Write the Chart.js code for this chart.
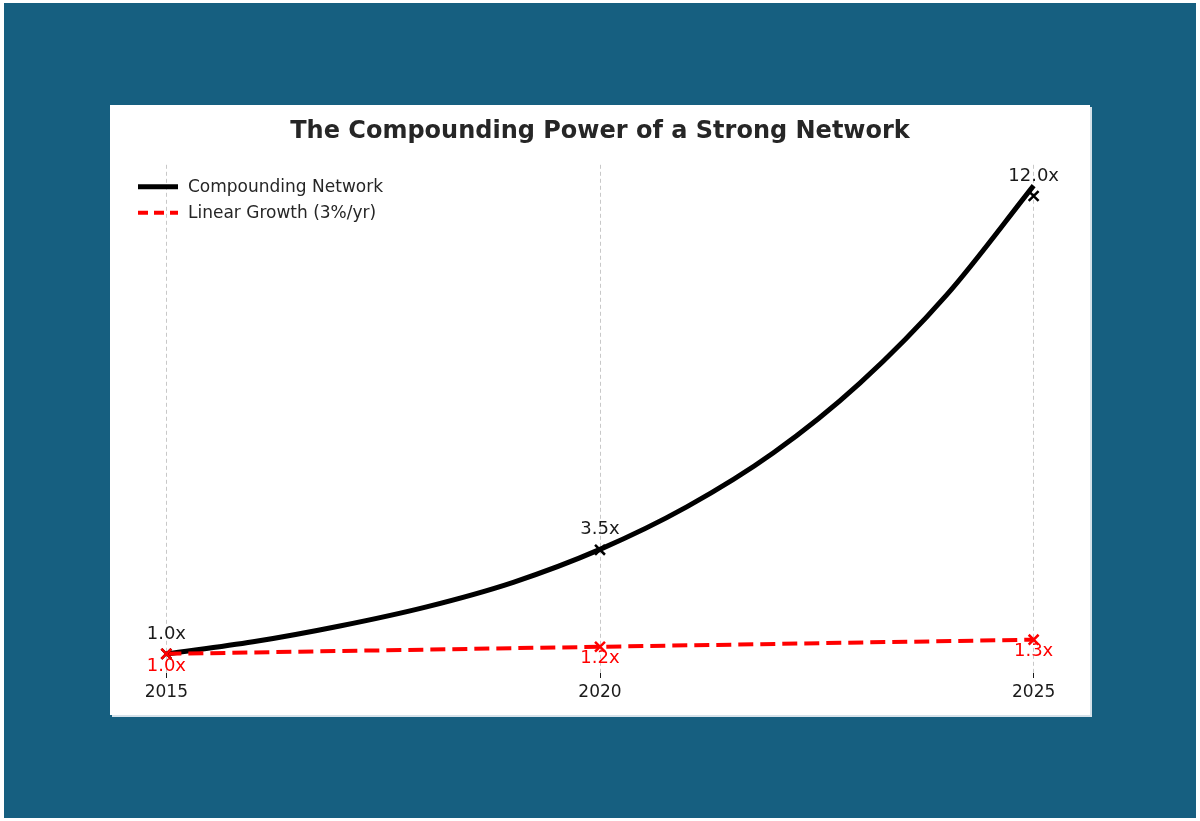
<!DOCTYPE html>
<html>
<head>
<meta charset="utf-8">
<script src="https://cdn.jsdelivr.net/npm/chart.js@4.4.1/dist/chart.umd.min.js"></script>
<style>
    html, body { margin: 0; padding: 0; background: #ffffff; }
    #frame {
        position: absolute; left: 4px; top: 3px; width: 1192px; height: 815px;
        background: #165f80;
    }
    #panel {
        position: absolute; left: 110px; top: 105px; width: 980px; height: 610px;
        background: #ffffff;
        box-shadow: 2px 2px 0 #d6e2ea;
    }
    #chart { display: block; }
</style>
</head>
<body>
<div id="frame"></div>
<div id="panel"><canvas id="chart" width="980" height="610"></canvas></div>
<script>
// ── Data ────────────────────────────────────
const YEARS = [2015, 2016, 2017, 2018, 2019, 2020, 2021, 2022, 2023, 2024, 2025];
const NETWORK = [1.0, 1.29, 1.67, 2.13, 2.72, 3.51, 4.53, 5.83, 7.51, 9.63, 12.25];

const LINEAR_YEARS = [2015, 2020, 2025];
const LINEAR = [1.0, 1.17, 1.34];

const MARK_YEARS = [2015, 2020, 2025];
const NETWORK_MARKS = [1.0, 3.5, 12.0];
const LINEAR_MARKS = [1.0, 1.17, 1.34];

const TICK_YEARS = [2015, 2020, 2025];

const TITLE = 'The Compounding Power of a Strong Network';
const LEGEND = [
    { label: 'Compounding Network', color: '#000000', dash: [], width: 5 },
    { label: 'Linear Growth (3%/yr)', color: '#ff0000', dash: [10, 6], width: 4 },
];

const FONT = '"DejaVu Sans", "Noto Sans", sans-serif';

const pts = (xs, ys) => xs.map((x, i) => ({ x, y: ys[i] }));

// ── Plugins ─────────────────────────────────

// legend drawn inside the plot, top-left like the original
const insideLegend = {
    id: 'insideLegend',
    afterDraw(chart) {
        const { ctx, chartArea } = chart;
        ctx.save();
        ctx.font = '17px ' + FONT;
        ctx.textBaseline = 'middle';
        LEGEND.forEach((item, i) => {
            const y = chartArea.top + 22 + i * 26;
            const x = chartArea.left + 15;
            ctx.beginPath();
            ctx.strokeStyle = item.color;
            ctx.lineWidth = item.width;
            ctx.setLineDash(item.dash);
            ctx.moveTo(x, y);
            ctx.lineTo(x + 40, y);
            ctx.stroke();
            ctx.setLineDash([]);
            ctx.fillStyle = '#262626';
            ctx.fillText(item.label, x + 50, y + 1);
        });
        ctx.restore();
    },
};

// value labels next to the x markers
const valueLabels = {
    id: 'valueLabels',
    afterDatasetsDraw(chart) {
        const { ctx } = chart;
        ctx.save();
        ctx.font = '18px ' + FONT;
        ctx.textAlign = 'center';
        chart.data.datasets.forEach((ds, di) => {
            if (!ds.valueLabel) return;
            const meta = chart.getDatasetMeta(di);
            meta.data.forEach((el, i) => {
                const v = ds.data[i].y;
                ctx.fillStyle = ds.valueLabel.color;
                ctx.textBaseline = ds.valueLabel.above ? 'bottom' : 'top';
                ctx.fillText(v.toFixed(1) + 'x', el.x, el.y + ds.valueLabel.dy);
            });
        });
        ctx.restore();
    },
};

// ── Chart ───────────────────────────────────

const datasets = [
    {
        label: 'Linear marks',
        data: pts(MARK_YEARS, LINEAR_MARKS),
        showLine: false,
        pointStyle: 'crossRot', pointRadius: 7, pointBorderWidth: 2.5,
        borderColor: '#ff0000', backgroundColor: '#ff0000',
        valueLabel: { color: '#ff0000', above: false, dy: 3 },
        order: 0,
    },
    {
        label: 'Network marks',
        data: pts(MARK_YEARS, NETWORK_MARKS),
        showLine: false,
        pointStyle: 'crossRot', pointRadius: 7, pointBorderWidth: 2.5,
        borderColor: '#000000', backgroundColor: '#000000',
        valueLabel: { color: '#1a1a1a', above: true, dy: -11 },
        order: 1,
    },
    {
        label: 'Linear Growth (3%/yr)',
        data: pts(LINEAR_YEARS, LINEAR),
        borderColor: '#ff0000', borderWidth: 4, borderDash: [15, 7],
        pointRadius: 0, tension: 0, fill: false,
        order: 2,
    },
    {
        label: 'Compounding Network',
        data: pts(YEARS, NETWORK),
        borderColor: '#000000', borderWidth: 5,
        pointRadius: 0, cubicInterpolationMode: 'monotone', fill: false,
        order: 3,
    },
];

new Chart(document.getElementById('chart'), {
    type: 'line',
    data: { datasets },
    plugins: [insideLegend, valueLabels],
    options: {
        responsive: false,
        animation: false,
        layout: { padding: { left: 13, right: 13, top: 0, bottom: 0 } },
        plugins: {
            legend: { display: false },
            tooltip: { enabled: false },
            title: {
                display: true,
                text: TITLE,
                color: '#262626',
                font: { family: FONT, size: 24, weight: 'bold' },
                padding: { top: 12, bottom: 19 },
            },
        },
        scales: {
            x: {
                type: 'linear',
                min: 2014.5,
                max: 2025.5,
                afterBuildTicks: s => { s.ticks = TICK_YEARS.map(v => ({ value: v })); },
                afterFit: s => { s.height = 42; },
                ticks: {
                    color: '#1a1a1a',
                    font: { family: FONT, size: 17 },
                    padding: 4,
                    maxRotation: 0,
                    callback: v => String(v),
                },
                grid: {
                    color: '#c8c8c8',
                    lineWidth: 1,
                    tickColor: '#1a1a1a',
                    tickLength: 5,
                },
                border: { display: false, dash: [4, 3] },
            },
            y: {
                display: false,
                min: 0.54,
                max: 12.75,
            },
        },
    },
});
</script>
</body>
</html>
